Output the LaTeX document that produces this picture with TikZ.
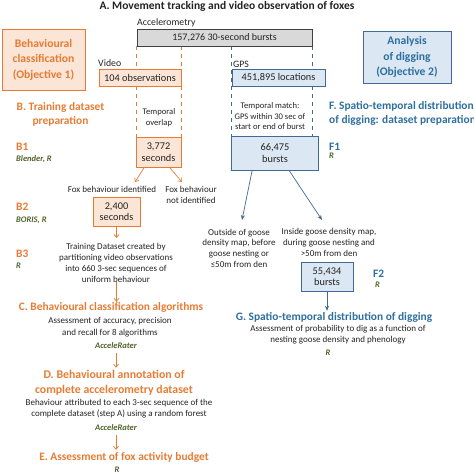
\documentclass[tikz,border=0pt]{standalone}
\usepackage{fontspec}
\setmainfont{Carlito}
\usetikzlibrary{arrows.meta,backgrounds,calc}
\definecolor{ora}{RGB}{230,124,52}
\definecolor{orafill}{RGB}{251,229,214}
\definecolor{blu}{RGB}{46,111,160}
\definecolor{blufill}{RGB}{219,231,242}
\definecolor{bluline}{RGB}{65,105,145}
\definecolor{grayfill}{RGB}{217,217,217}
\definecolor{grn}{RGB}{79,98,40}
\definecolor{txt}{RGB}{35,35,35}
\begin{document}
\begin{tikzpicture}[x=1pt,y=-1pt,
  obox/.style={draw=ora, fill=orafill, line width=0.8pt, inner sep=0pt, align=center, font=\fontsize{10.3}{11.5}\selectfont, text=txt},
  bbox/.style={draw=bluline, fill=blufill, line width=0.8pt, inner sep=0pt, align=center, font=\fontsize{10.3}{11.5}\selectfont, text=txt},
  gbox/.style={draw=black!75, fill=grayfill, line width=0.8pt, inner sep=0pt, align=center, font=\fontsize{10}{11}\selectfont, text=txt},
  lbl/.style={align=center, font=\fontsize{9}{11}\selectfont, text=txt, inner sep=0pt},
  big/.style={align=center, font=\fontsize{9.8}{11}\selectfont, text=txt, inner sep=0pt},
  otitle/.style={text=ora, font=\bfseries\fontsize{11.4}{14}\selectfont, align=center, inner sep=0pt},
  btitle/.style={text=blu, font=\bfseries\fontsize{11.4}{14}\selectfont, align=center, inner sep=0pt},
  sw/.style={text=grn, font=\bfseries\itshape\fontsize{8.5}{9}\selectfont, inner sep=0pt, anchor=west},
  odash/.style={draw=ora, line width=0.7pt, dash pattern=on 4pt off 4pt},
  bdash/.style={draw=bluline, line width=0.7pt, dash pattern=on 4pt off 4pt},
  oarr/.style={draw=ora, line width=0.7pt, -{Straight Barb[length=3pt,width=5pt]}},
  barr/.style={draw=bluline, line width=0.7pt, -{Stealth[length=5pt,width=4pt]}}
]
\useasboundingbox (0,0) rectangle (474,474);

% title
\node[font=\bfseries\fontsize{11.5}{12}\selectfont, text=txt, inner sep=0pt] (title) at (227,6) {A. Movement tracking and video observation of foxes};

% objective boxes
\node[obox, minimum width=83, minimum height=61, font=\bfseries\fontsize{11.6}{15.5}\selectfont, text=ora] (obj1) at (43.5,59.5) {Behavioural\\classification\\(Objective 1)};
\node[bbox, minimum width=88, minimum height=52, font=\bfseries\fontsize{11.6}{15.5}\selectfont, text=blu] (obj2) at (407,57) {Analysis\\of digging\\(Objective 2)};

% top bar
\node[big, anchor=west] (accl) at (137,23) {Accelerometry};
\node[gbox, minimum width=175, minimum height=17] (bar) at (224.5,37.5) {157,276 30-second bursts};

\node[big, anchor=west] (vidl) at (98,63) {Video};
\node[obox, minimum width=82, minimum height=17] (vid) at (140,78) {104 observations};
\node[big, anchor=west] (gpsl) at (233,64) {GPS};
\node[bbox, minimum width=93, minimum height=17] (gps) at (278.5,78) {451,895 locations};

% boxes
\node[obox, minimum width=45, minimum height=30] (t3772) at (158.5,152) {3,772\\seconds};
\node[bbox, minimum width=87, minimum height=34] (b66) at (275,153) {66,475\\bursts};
\node[obox, minimum width=47, minimum height=29] (t2400) at (116.5,211.5) {2,400\\seconds};
\node[bbox, minimum width=52, minimum height=29] (b55) at (327,276.5) {55,434\\bursts};

% dashed lines
\begin{scope}[on background layer]
\draw[odash] (bar.south west) -- (bar.south west |- t3772.north);
\draw[odash] (t3772.north east |- bar.south) -- (t3772.north east);
\draw[bdash] (b66.north west |- bar.south) -- (b66.north west);
\draw[bdash] (bar.south east) -- (bar.south east |- b66.north);
\end{scope}

% labels inside dashed
\node[lbl, font=\fontsize{8.6}{11}\selectfont] (tover) at (159,117.5) {Temporal\\overlap};
\node[lbl, font=\fontsize{8.6}{10.5}\selectfont] (tmatch) at (270,116.5) {Temporal match:\\GPS within 30 sec of\\start or end of burst};

% left headings
\node[otitle] (btitle) at (60.5,114) {B. Training dataset\\preparation};
\node[otitle, anchor=west] (b1) at (16,147) {B1};
\node[sw] (b1s) at (16,159) {Blender, R};
\node[otitle, anchor=west] (b2) at (16,207) {B2};
\node[sw] (b2s) at (16,220) {BORIS, R};
\node[otitle, anchor=west] (b3) at (16,254) {B3};
\node[sw] (b3s) at (16,266) {R};

% fox behaviour
\coordinate (fa) at (135,182);
\coordinate (fb) at (182,182);
\draw[oarr] ($(t3772.south west)!0.19!(t3772.south east)$) -- (fa);
\draw[oarr] ($(t3772.south west)!0.74!(t3772.south east)$) -- (fb);
\node[lbl] (fid) at (112,189) {Fox behaviour identified};
\node[lbl] (fnid) at (191,194.5) {Fox behaviour\\not identified};

\coordinate (c2400) at (116.5,238);
\draw[oarr] (t2400.south) -- (c2400);
\node[lbl] (train) at (116,262.5) {Training Dataset created by\\partitioning video observations\\into 660 3-sec sequences of\\uniform behaviour};

\node[otitle] (ctitle) at (111,307) {C. Behavioural classification algorithms};
\draw[oarr] (train.south -| c2400) -- (ctitle.north -| c2400);
\node[lbl, font=\fontsize{9}{12}\selectfont] (cdesc) at (110,327) {Assessment of accuracy, precision\\and recall for 8 algorithms};
\node[sw, anchor=center] (acc1) at (116,346) {AcceleRater};
\node[otitle, font=\bfseries\fontsize{11.8}{15}\selectfont] (dtitle) at (114,382.5) {D. Behavioural annotation of\\complete accelerometry dataset};
\node[lbl] (ddesc) at (119,408.5) {Behaviour attributed to each 3-sec sequence of the\\complete dataset (step A) using a random forest};
\node[sw, anchor=center] (acc2) at (116,428) {AcceleRater};
\node[otitle] (etitle) at (124,457) {E. Assessment of fox activity budget};
\node[sw, anchor=center] (er) at (117,470) {R};
\draw[oarr] ([yshift=-4pt]acc1.south) -- ([yshift=2pt]dtitle.north -| acc1);
\draw[oarr] ([yshift=-4pt]acc2.south) -- ([yshift=2pt]etitle.north -| acc2);

% right side
\node[btitle, anchor=west, align=left] (ftitle) at (329,113.5) {F. Spatio-temporal distribution\\of digging: dataset preparation};
\node[btitle, anchor=west] (f1) at (329,147) {F1};
\node[sw] (f1s) at (329,156) {R};

\coordinate (oa) at (242,220);
\coordinate (ob) at (322,220);
\draw[barr] ($(b66.south west)!0.24!(b66.south east)$) -- (oa);
\draw[barr] ($(b66.south west)!0.66!(b66.south east)$) -- (ob);
\node[lbl, font=\fontsize{9}{10.7}\selectfont] (outside) at (239,248) {Outside of goose\\density map, before\\goose nesting or\\≤50m from den};
\node[lbl, font=\fontsize{9}{10.7}\selectfont] (inside) at (329,242.5) {Inside goose density map,\\during goose nesting and\\>50m from den};

\node[btitle, anchor=west] (f2) at (373,274) {F2};
\node[sw] (f2s) at (375,285) {R};

\node[btitle] (gtitle) at (334,317) {G. Spatio-temporal distribution of digging};
\draw[barr] (b55.south) -- ([yshift=1pt]gtitle.north -| b55);
\node[lbl] (gdesc) at (338,334.5) {Assessment of probability to dig as a function of\\nesting goose density and phenology};
\node[sw, anchor=center] (gr) at (328,353) {R};
\end{tikzpicture}
\end{document}
